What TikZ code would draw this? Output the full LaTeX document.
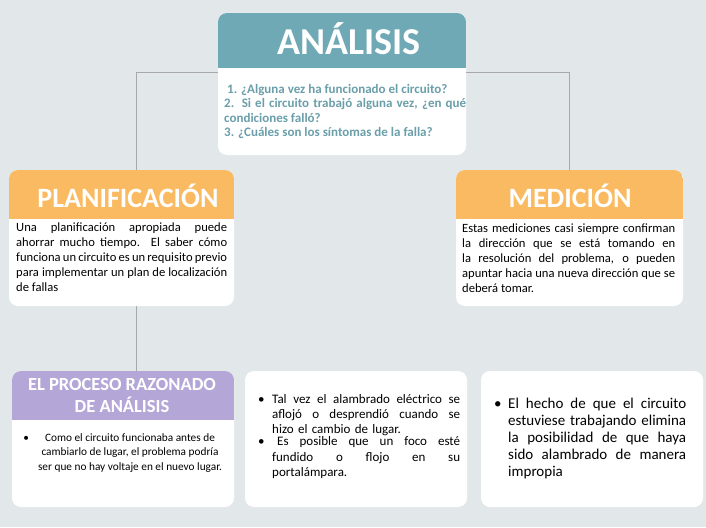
\documentclass[tikz,border=0pt]{standalone}
\usepackage{fontspec}
\setmainfont{Carlito}
\hyphenpenalty=10000
\exhyphenpenalty=10000
\definecolor{bg}{HTML}{E2E8EA}
\definecolor{teal}{HTML}{6EA9B5}
\definecolor{orng}{HTML}{F9BA62}
\definecolor{purp}{HTML}{B4A7D8}
\definecolor{ln}{HTML}{A8A8A8}
\definecolor{qtxt}{HTML}{6A9FAA}
\begin{document}
\begin{tikzpicture}[x=1pt,y=-1pt,
  card/.style={fill=white,rounded corners=9pt},
  body/.style={anchor=north west,align=justify,inner sep=0pt,font=\fontsize{12.6}{15}\selectfont}]
\fill[bg] (0,0) rectangle (706,527);
\useasboundingbox (0,0) rectangle (706,527);
% connectors
\coordinate (l1) at (136,72);
\coordinate (r1) at (569,72);
\draw[ln,line width=0.8pt] (136,170) -- (l1) -- (r1) -- (569,170);
\draw[ln,line width=0.8pt] (136,306) -- (136,371);
% Analisis
\fill[card] (218,13) rectangle (466,155);
\begin{scope}
\clip[rounded corners=9pt] (218,13) rectangle (466,155);
\fill[teal] (218,13) rectangle (466,68);
\end{scope}
\node[font=\bfseries\fontsize{38}{38}\selectfont\color{white}] (an) at (349,39) {ANÁLISIS};
\node[anchor=north west,inner sep=0pt,text width=242pt,align=justify,font=\bfseries\fontsize{13}{14.5}\selectfont\color{qtxt}] (q) at (224,84)
{\hspace*{3pt}1. ¿Alguna vez ha funcionado el circuito?\\
2. Si el circuito trabajó alguna vez, ¿en qué condiciones falló?\\
3. ¿Cuáles son los síntomas de la falla?};
% Planificacion
\fill[card] (9,170) rectangle (234,306);
\begin{scope}
\clip[rounded corners=9pt] (9,170) rectangle (234,306);
\fill[orng] (9,170) rectangle (234,219);
\end{scope}
\node[font=\bfseries\fontsize{28}{28}\selectfont\color{white}] (pl) at (128,196) {PLANIFICACIÓN};
\node[body,text width=211pt] (plt) at (16,223) {Una planificación apropiada puede ahorrar mucho tiempo. El saber cómo funciona un circuito es un requisito previo para implementar un plan de localización de fallas};
% Medicion
\fill[card] (456,170) rectangle (683,306);
\begin{scope}
\clip[rounded corners=9pt] (456,170) rectangle (683,306);
\fill[orng] (456,170) rectangle (683,219);
\end{scope}
\node[font=\bfseries\fontsize{28}{28}\selectfont\color{white}] (me) at (570,196) {MEDICIÓN};
\node[body,text width=213pt] (met) at (462,224) {Estas mediciones casi siempre confirman la dirección que se está tomando en la resolución del problema, o pueden apuntar hacia una nueva dirección que se deberá tomar.};
% Proceso
\fill[card] (12,371) rectangle (234,507);
\begin{scope}
\clip[rounded corners=9pt] (12,371) rectangle (234,507);
\fill[purp] (12,371) rectangle (234,420);
\end{scope}
\node[align=center,font=\bfseries\fontsize{18.5}{22}\selectfont\color{white}] (pr) at (122,395) {EL PROCESO RAZONADO\\DE ANÁLISIS};
\node[anchor=north,inner sep=0pt,align=center,font=\fontsize{11.3}{14.5}\selectfont] (prt) at (130,433)
{\llap{\textbullet\hspace{16pt}}Como el circuito funcionaba antes de\\cambiarlo de lugar, el problema podría\\ser que no hay voltaje en el nuevo lugar.};
% Box 2
\fill[card] (245,371) rectangle (467,507);
\node[anchor=north west,inner sep=0pt,text width=202pt,align=left,font=\fontsize{13}{15.2}\selectfont] (b2) at (258,394)
{\makebox[14pt][l]{\textbullet}\parbox[t]{188pt}{\fontsize{13}{15.2}\selectfont Tal\hfill vez\hfill el\hfill alambrado\hfill eléctrico\hfill se\\aflojó\hfill o\hfill desprendió\hfill cuando\hfill se\\hizo el cambio de lugar.}\\
\makebox[14pt][l]{\textbullet}\parbox[t]{188pt}{\fontsize{13}{15.2}\selectfont\hspace*{5pt}Es\hfill posible\hfill que\hfill un\hfill foco\hfill esté\\fundido\hfill o\hfill flojo\hfill en\hfill su\\portalámpara.}};
% Box 3
\fill[card] (481,371) rectangle (703,507);
\node[anchor=north west,inner sep=0pt,text width=200pt,font=\fontsize{15}{17}\selectfont] (b3) at (494,398)
{\makebox[14pt][l]{\textbullet}\parbox[t]{178pt}{\fontsize{15}{17}\selectfont El\hfill hecho\hfill de\hfill que\hfill el\hfill circuito\\estuviese\hfill trabajando\hfill elimina\\la\hfill posibilidad\hfill de\hfill que\hfill haya\\sido\hfill alambrado\hfill de\hfill manera\\impropia}};
\end{tikzpicture}
\end{document}
